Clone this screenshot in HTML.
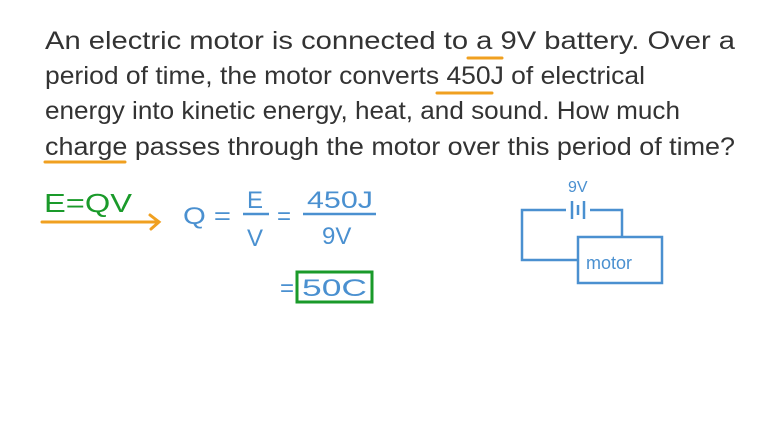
<!DOCTYPE html>
<html><head><style>body{margin:0;background:#fff}</style></head><body>
<svg width="760" height="427" viewBox="0 0 760 427" xmlns="http://www.w3.org/2000/svg" font-family="'Liberation Sans', sans-serif">
<g fill="#333" font-size="25">
<text x="45" y="49" textLength="690" lengthAdjust="spacingAndGlyphs">An electric motor is connected to a 9V battery. Over a</text>
<text x="45" y="84" textLength="600" lengthAdjust="spacingAndGlyphs">period of time, the motor converts 450J of electrical</text>
<text x="45" y="119" textLength="635" lengthAdjust="spacingAndGlyphs">energy into kinetic energy, heat, and sound.  How much</text>
<text x="45" y="155" textLength="690" lengthAdjust="spacingAndGlyphs">charge passes through the motor over this period of time?</text>
</g>
<g stroke="#f0a020" stroke-width="3" fill="none" stroke-linecap="round">
<line x1="468" y1="58" x2="502" y2="58"/>
<line x1="437" y1="93" x2="492" y2="93"/>
<line x1="45" y1="162" x2="125" y2="162"/>
<line x1="42" y1="222" x2="158" y2="222"/>
<path d="M150 215 L159 222 L151 229"/>
</g>
<text x="44" y="212" fill="#1a9a2a" font-size="26" textLength="88" lengthAdjust="spacingAndGlyphs">E=QV</text>
<g fill="#4a90d0" font-size="24">
<text x="183" y="224" textLength="48" lengthAdjust="spacingAndGlyphs">Q =</text>
<text x="247" y="208">E</text>
<text x="247" y="246">V</text>
<text x="277" y="224">=</text>
<text x="307" y="208" textLength="66" lengthAdjust="spacingAndGlyphs">450J</text>
<text x="322" y="244">9V</text>
<text x="280" y="296">=</text>
<text x="302" y="296" textLength="65" lengthAdjust="spacingAndGlyphs">50C</text>
<text x="568" y="192" font-size="16">9V</text>
<text x="586" y="269" font-size="18">motor</text>
</g>
<g stroke="#4a90d0" stroke-width="2.5" fill="none">
<line x1="243" y1="214" x2="269" y2="214"/>
<line x1="303" y1="214" x2="376" y2="214"/>
<path d="M566 210 H522 V260 H578"/>
<path d="M590 210 H622 V237"/>
<rect x="578" y="237" width="84" height="46"/>
<line x1="572" y1="201" x2="572" y2="219"/>
<line x1="578" y1="205" x2="578" y2="215"/>
<line x1="584" y1="201" x2="584" y2="219"/>
</g>
<rect x="297" y="272" width="75" height="30" fill="none" stroke="#1a9a2a" stroke-width="3"/>
</svg>
</body></html>
